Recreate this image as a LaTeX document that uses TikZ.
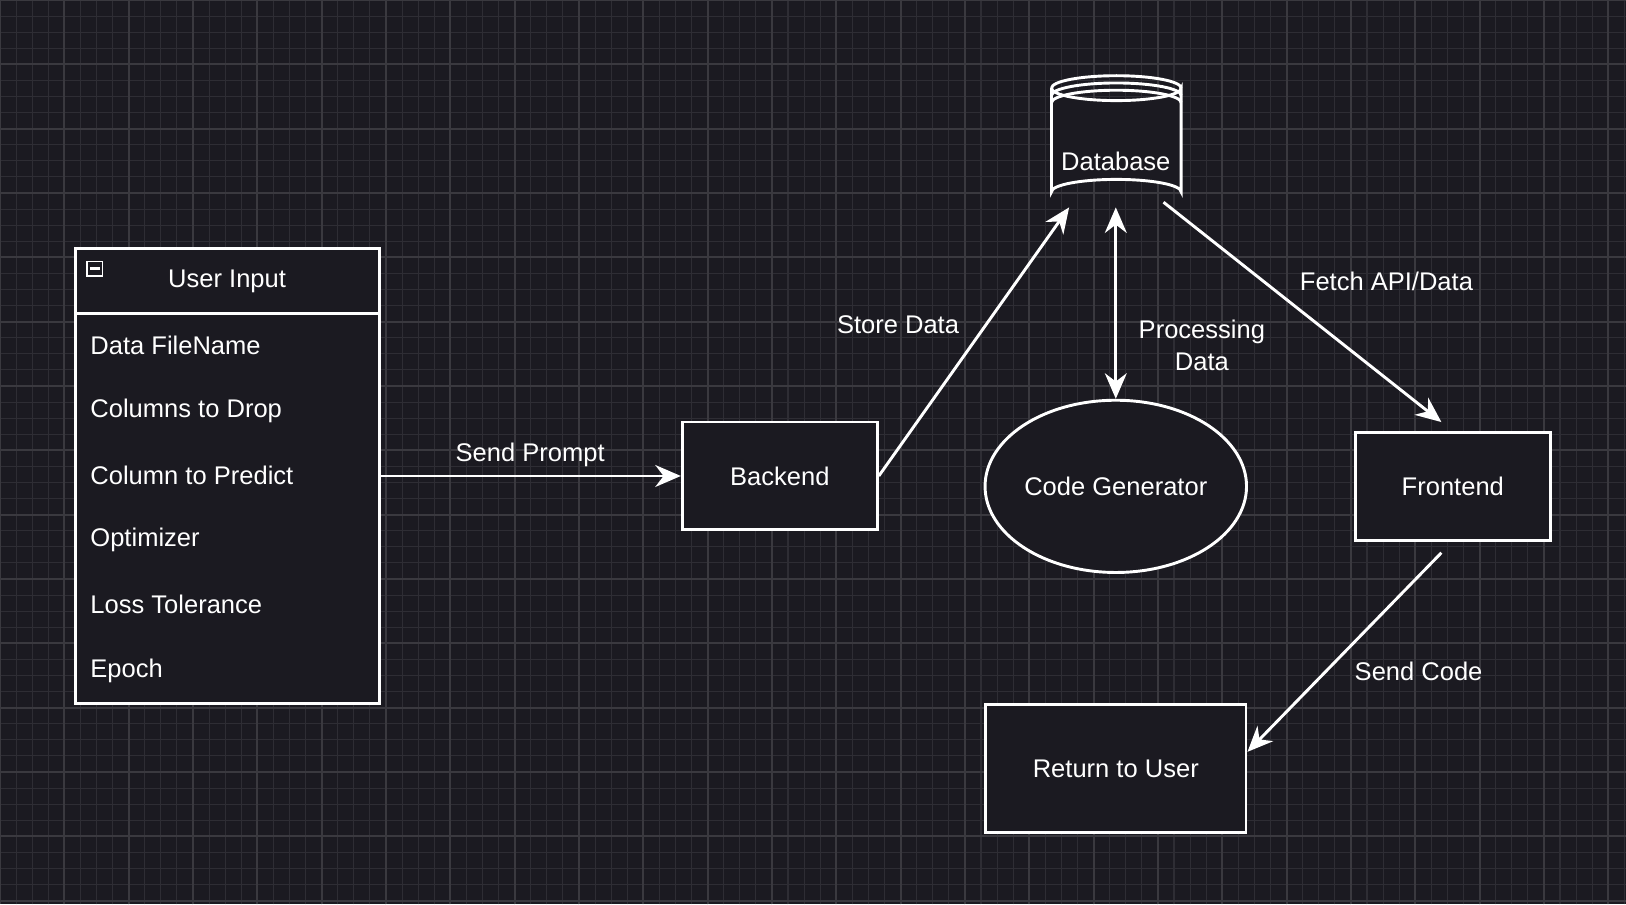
\documentclass[tikz,border=0pt]{standalone}
\usepackage{fontspec}
\setmainfont{Liberation Sans}
\usetikzlibrary{arrows.meta,positioning,shapes.geometric}
\definecolor{bgc}{HTML}{1B1A21}
\definecolor{gridc}{HTML}{2E2D34}
\definecolor{gridm}{HTML}{3A393F}
\tikzset{
  box/.style={draw=white,fill=bgc,thick,minimum width=1.88cm,minimum height=1.04cm,text=white},
  lbl/.style={text=white,inner sep=1pt},
  arr/.style={draw=white,-{Stealth[length=7pt,width=6pt]},thick},
}
\begin{document}
\begin{tikzpicture}[x=0.01cm,y=-0.01cm,font=\fontsize{7pt}{9pt}\selectfont]
  \fill[bgc] (0,0) rectangle (1568,872);
  \useasboundingbox (0,0) rectangle (1568,872);
  \draw[gridc,line width=0.3pt] (0,0) grid[step=0.155cm] (1568,872);
  \draw[gridm,line width=0.5pt] (0,0) grid[step=0.62cm] (1568,872);
  % user input table
  \draw[white,thick,fill=bgc] (73,240) rectangle (366,678);
  \draw[white,thick] (73,302) -- (366,302);
  \draw[white,fill=bgc] (84,252) rectangle (99,266);
  \draw[white,thick] (87,259) -- (96,259);
  \node[lbl] (input) at (219,271) {User Input};
  \foreach \y/\t in {333/Data FileName,396/Columns to Drop,458/Column to Predict,
      521/Optimizer,583/Loss Tolerance,647/Epoch}
    \node[lbl,anchor=west] at (83,\y) {\t};
  \coordinate (inputE) at (366,459);
  % boxes
  \node[box] (backend) at (752,459) {Backend};
  \node[box] (frontend) at (1401,469) {Frontend};
  \node[box,minimum width=2.51cm,minimum height=1.24cm] (ret) at (1076,741) {Return to User};
  \node[draw=white,thick,fill=bgc,ellipse,inner sep=0pt,minimum width=2.52cm,minimum height=1.66cm,text=white] (codegen) at (1076,469) {Code Generator};
  % database
  \draw[white,thick,fill=bgc] (1014,85) -- (1014,185) arc[start angle=180,end angle=360,x radius=62.5,y radius=12]
    -- (1139,85) arc[start angle=0,end angle=180,x radius=62.5,y radius=12];
  \draw[white,thick] (1014,85) arc[start angle=180,end angle=360,x radius=62.5,y radius=12];
  \draw[white,thick] (1014,92) arc[start angle=180,end angle=360,x radius=62.5,y radius=12];
  \draw[white,thick] (1014,99) arc[start angle=180,end angle=360,x radius=62.5,y radius=12];
  \node[lbl,minimum width=1.25cm,minimum height=1.1cm] (db) at (1076,145) {};
  \node[lbl] at (1076,156) {Database};
  % connectors
  \draw[arr] (inputE) -- (backend.west) node[lbl,midway,above=1pt] {Send Prompt};
  \draw[arr] (backend.east) -- (1031,200);
  \node[lbl] at (866,313) {Store Data};
  \draw[arr,{Stealth[length=7pt,width=6pt]}-{Stealth[length=7pt,width=6pt]}] (1076,200) -- (codegen.north);
  \node[lbl,align=center] at (1159,333) {Processing\\Data};
  \draw[arr] (1122,195) -- (1390,407);
  \node[lbl] at (1337,271) {Fetch API/Data};
  \draw[arr] (1390,533) -- (ret.east |- 725,725);
  \node[lbl] at (1368,647) {Send Code};
\end{tikzpicture}
\end{document}
